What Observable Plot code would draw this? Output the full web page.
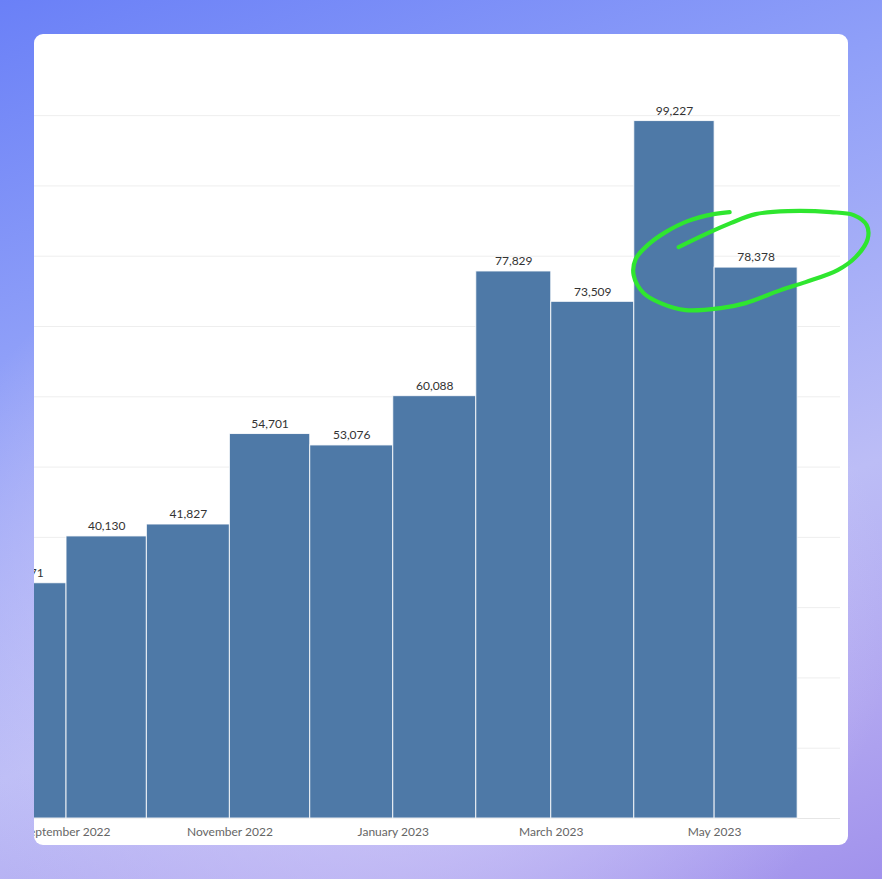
<!DOCTYPE html>
<html><head><meta charset="utf-8">
<script src="https://cdn.jsdelivr.net/npm/d3@7"></script>
<script src="https://cdn.jsdelivr.net/npm/@observablehq/plot@0.6"></script>
<style>
html,body{margin:0;padding:0;}
body{width:882px;height:879px;position:relative;overflow:hidden;
  background:
    radial-gradient(ellipse 70% 60% at 45% 70%, rgba(215,212,250,0.95) 0%, rgba(205,200,248,0.6) 45%, rgba(200,195,246,0) 80%),
    linear-gradient(160deg, #6a80f7 0%, #8f9ff8 30%, #bcbdf6 65%, #b1a6f0 85%, #a192ec 100%);
  font-family: Lato, "Open Sans", sans-serif;}
#card{position:absolute;left:34px;top:34px;width:814px;height:811px;background:#fff;border-radius:9px;overflow:hidden;}
#chart{position:absolute;left:-51px;top:0;}
#anno{position:absolute;left:0;top:0;pointer-events:none;}
</style></head><body>
<div id="card"><div id="chart"></div></div>
<svg id="anno" width="882" height="879"></svg>
<script>
// Data
const months = ["2022-08","2022-09","2022-10","2022-11","2022-12","2023-01","2023-02","2023-03","2023-04","2023-05"];
const values = [33471, 40130, 41827, 54701, 53076, 60088, 77829, 73509, 99227, 78378];
const tickMonths = ["2022-09","2022-11","2023-01","2023-03","2023-05"];
const gridValues = [10000,20000,30000,40000,50000,60000,70000,80000,90000,100000];
const highlightMonth = "2023-05";

const parse = s => new Date(s + "-01T00:00:00Z");
const data = months.map((m, i) => {
  const start = parse(m);
  const end = d3.utcMonth.offset(start, 1);
  return {start, end, mid: new Date((+start + +end) / 2), value: values[i], month: m};
});

const xDomain = [parse("2022-08"), new Date(Date.UTC(2023, 5, 17))];
const fmt = d3.format(",");

const chart = Plot.plot({
  width: 857,
  height: 811,
  marginLeft: 0,
  marginRight: 0,
  marginTop: 46,
  marginBottom: 27,
  style: {fontFamily: "Lato, 'Open Sans', sans-serif", background: "transparent", overflow: "visible"},
  x: {type: "utc", domain: xDomain, axis: null},
  y: {domain: [0, 105000], axis: null},
  marks: [
    Plot.ruleY(gridValues, {stroke: "#eeeeee", strokeWidth: 1}),
    Plot.ruleY([0], {stroke: "#e6e6e6", strokeWidth: 1}),
    Plot.rectY(data, {x1: "start", x2: "end", y: "value", fill: "#4e79a7", stroke: "#ffffff", strokeWidth: 1, strokeOpacity: 0.85}),
    Plot.text(data, {x: "mid", y: "value", text: d => fmt(d.value), dy: -10, fill: "#333333", fontSize: 12}),
    Plot.axisX(tickMonths.map(parse), {tickSize: 0, tickPadding: 9, tickFormat: d3.utcFormat("%B %Y"), fill: "#666666", fontSize: 12})
  ]
});
document.getElementById("chart").appendChild(chart);

// Hand-drawn highlight around the last month, anchored through the plot scales
const hl = data.find(d => d.month === highlightMonth);
const sx = chart.scale("x"), sy = chart.scale("y");
const ax = sx.apply(hl.mid) - 17, ay = sy.apply(hl.value) + 34;
// offsets from the anchor (bar top centre), in pixels
const loop = [
  [-77,-20],[-50,-33],[-25,-44],[0,-53],[32,-56],[75,-55],[98,-52],[111,-42],[112,-28],[100,-10],
  [82,3],[50,15],[25,23],[-10,36],[-35,41],[-70,43],[-95,36],[-112,26],[-122,8],[-120,-8],[-108,-22],[-90,-35],[-68,-46],[-42,-53],[-26,-55]
];
const path = d3.line().curve(d3.curveCatmullRom.alpha(0.5))(loop.map(([dx, dy]) => [ax + dx, ay + dy]));
d3.select("#anno").append("path")
  .attr("d", path)
  .attr("fill", "none")
  .attr("stroke", "#2fe62f")
  .attr("stroke-width", 4.2)
  .attr("stroke-linecap", "round")
  .attr("stroke-linejoin", "round");
</script>
</body></html>
